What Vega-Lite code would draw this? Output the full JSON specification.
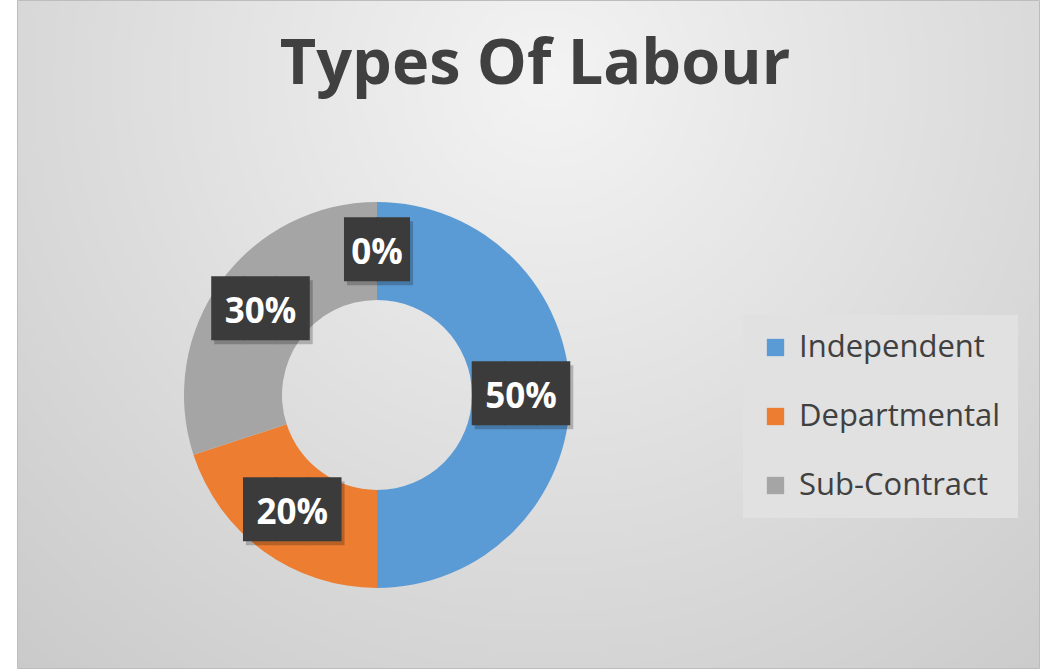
{
  "$schema": "https://vega.github.io/schema/vega-lite/v6.json",
  "width": 1022,
  "height": 668,
  "autosize": {"type": "none"},
  "padding": {"left": 17, "top": 0, "right": 15, "bottom": 4},
  "background": "white",
  "view": {
    "fill": {"gradient": "radial", "x1": 0.52, "y1": 0.25, "r1": 0, "x2": 0.52, "y2": 0.25, "r2": 0.85,
      "stops": [{"offset": 0, "color": "#f3f3f3"}, {"offset": 1, "color": "#c6c6c6"}]},
    "stroke": "#bdbdbd",
    "strokeWidth": 1
  },
  "title": {
    "text": "Types Of Labour",
    "font": "Open Sans",
    "fontSize": 63,
    "fontWeight": "bold",
    "color": "#404040",
    "anchor": "middle",
    "offset": -97,
    "dx": 7
  },
  "data": {
    "values": [
      {"type": "Independent", "value": 50, "label": "50%", "idx": 1},
      {"type": "Departmental", "value": 20, "label": "20%", "idx": 2},
      {"type": "Sub-Contract", "value": 30, "label": "30%", "idx": 3},
      {"type": "Other", "value": 0, "label": "0%", "idx": 4}
    ]
  },
  "encoding": {
    "theta": {"field": "value", "type": "quantitative", "stack": true},
    "order": {"field": "idx", "type": "quantitative"}
  },
  "layer": [
    {
      "mark": {"type": "arc", "outerRadius": 193, "innerRadius": 95, "x": 360, "y": 395},
      "encoding": {
        "color": {
          "field": "type",
          "type": "nominal",
          "scale": {"domain": ["Independent", "Departmental", "Sub-Contract", "Other"], "range": ["#5b9bd5", "#ed7d31", "#a5a5a5", "#ffc000"]},
          "legend": {
            "values": ["Independent", "Departmental", "Sub-Contract"],
            "title": null,
            "orient": "none",
            "legendX": 726,
            "legendY": 315,
            "fillColor": "#e1e1e1",
            "padding": 17,
            "symbolType": "square",
            "symbolSize": 300,
            "symbolStrokeWidth": 0,
            "symbolOpacity": 1,
            "labelFont": "Open Sans",
            "labelFontSize": 31,
            "labelColor": "#404040",
            "labelLimit": 400,
            "labelOffset": 8,
            "rowPadding": 37
          }
        }
      }
    },
    {
      "mark": {"type": "text", "radius": 144, "x": 363, "y": 400, "font": "DejaVu Sans Mono", "fontSize": 54, "color": "#000000", "opacity": 0.22, "baseline": "middle", "align": "center"},
      "encoding": {"text": {"condition": {"test": "datum.value < 5", "value": "██"}, "value": "███"}}
    },
    {
      "mark": {"type": "text", "radius": 144, "x": 360, "y": 396, "font": "DejaVu Sans Mono", "fontSize": 54, "color": "#3b3b3b", "baseline": "middle", "align": "center"},
      "encoding": {"text": {"condition": {"test": "datum.value < 5", "value": "██"}, "value": "███"}}
    },
    {
      "mark": {"type": "text", "radius": 144, "x": 360, "y": 397, "font": "Open Sans", "fontSize": 35, "fontWeight": "bold", "color": "white", "baseline": "middle", "align": "center"},
      "encoding": {"text": {"field": "label", "type": "nominal"}}
    }
  ]
}
